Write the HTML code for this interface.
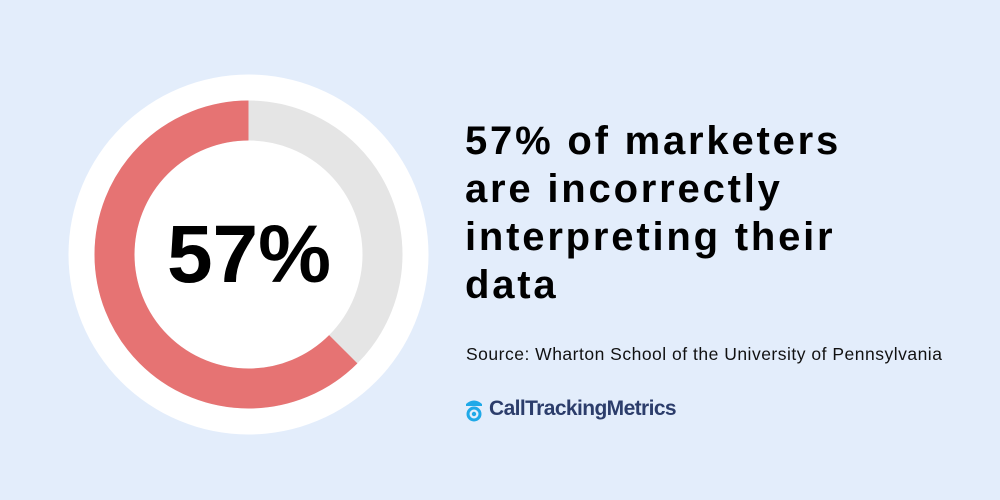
<!DOCTYPE html>
<html><head><meta charset="utf-8"><style>
html,body{margin:0;padding:0;}
body{width:1000px;height:500px;background:#e3edfb;position:relative;overflow:hidden;font-family:"Liberation Sans",sans-serif;}
.h{position:absolute;left:465px;top:117px;font-weight:bold;font-size:40px;line-height:48px;color:#000;letter-spacing:2.8px;}
.src{position:absolute;left:466px;top:344px;font-size:17.5px;color:#111;letter-spacing:0.5px;}
.logo{position:absolute;left:489px;top:397px;font-weight:bold;font-size:21px;color:#2c3d6b;letter-spacing:-0.6px;}
</style></head><body>
<svg width="1000" height="500" style="position:absolute;left:0;top:0">
<circle cx="248.5" cy="254.5" r="180" fill="#fff"/>
<circle cx="248.5" cy="254.5" r="134" fill="none" stroke="#e5e5e5" stroke-width="40"/>
<circle cx="248.5" cy="254.5" r="134" fill="none" stroke="#e67373" stroke-width="40"
 stroke-dasharray="526 2000" transform="rotate(-90 248.5 254.5) scale(1,-1) translate(0,-509)"/>
<text x="249" y="282" text-anchor="middle" font-family="Liberation Sans, sans-serif" font-weight="bold" font-size="82" fill="#000">57%</text>
<g fill="none" stroke="#1fa9e8" stroke-width="3">
<circle cx="474" cy="414" r="6"/>
</g>
<circle cx="474" cy="414" r="2.2" fill="#1fa9e8"/>
<path d="M466 404 Q474 397 482 404 L482 406 L466 406 Z" fill="#1fa9e8"/>
</svg>
<div class="h">57% of marketers<br>are incorrectly<br>interpreting their<br>data</div>
<div class="src">Source: Wharton School of the University of Pennsylvania</div>
<div class="logo">CallTrackingMetrics</div>
</body></html>
